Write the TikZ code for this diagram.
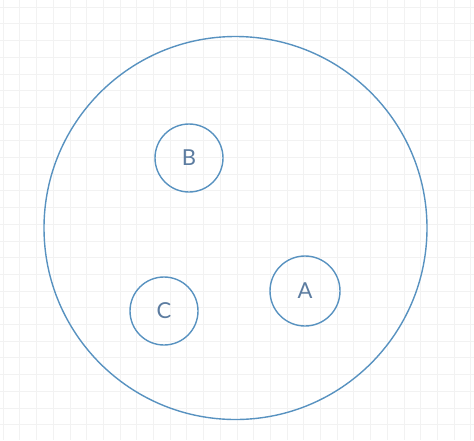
\documentclass[tikz,border=0pt]{standalone}
\usepackage{fontspec}
\setmainfont{Lato}
\definecolor{ringblue}{RGB}{88,146,192}
\definecolor{labelblue}{RGB}{92,124,160}
\definecolor{gridgray}{RGB}{242,242,242}
\tikzset{
  ring/.style={circle,draw=ringblue,line width=1.4pt,inner sep=0pt},
  cell/.style={ring,minimum size=68pt,text=labelblue,font=\fontsize{22}{22}\selectfont},
  gridline/.style={gridgray,line width=0.6pt}
}

\begin{document}
\begin{tikzpicture}[x=1pt,y=-1pt]
\useasboundingbox (0,0) rectangle (474,440);

% grid
\foreach \i in {0,...,28} {
  \draw[gridline] (3+16.7*\i,0) -- (3+16.7*\i,440);
}
\foreach \j in {0,...,26} {
  \draw[gridline] (0,7+16.7*\j) -- (474,7+16.7*\j);
}

\begin{scope}
% outer ring
\node[ring,minimum size = 383pt] (dish) at (235.5,228) {};

% small rings
\node[cell] (B) at (189,158) {B};
\node[cell,minimum size = 70pt] (A) at (305,291) {A};
\node[cell] (C) at (164,311) {C};
\end{scope}

\end{tikzpicture}
\end{document}
